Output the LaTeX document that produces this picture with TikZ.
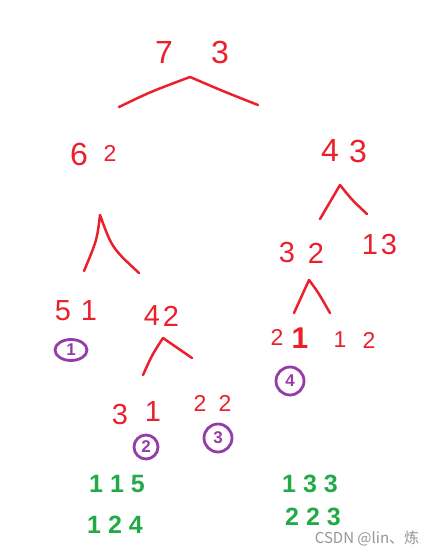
\documentclass[tikz,border=0pt]{standalone}
\usepackage{fontspec}
\usetikzlibrary{shapes.geometric}
\setmainfont{Liberation Sans}
\newfontfamily\cjk{Noto Sans CJK SC}
\definecolor{hred}{RGB}{236,32,44}
\definecolor{hgreen}{RGB}{34,170,72}
\definecolor{hpurple}{RGB}{150,60,170}
\definecolor{wmgray}{RGB}{150,150,150}
\begin{document}
\begin{tikzpicture}[x=1pt,y=-1pt,
  dig/.style={text=hred, font=\fontsize{29}{29}\selectfont, inner sep=0pt},
  bigdig/.style={dig, font=\fontsize{32}{32}\selectfont},
  smalldig/.style={dig, font=\fontsize{23}{23}\selectfont},
  wedge/.style={draw=hred, line width=2.5pt, line cap=round, line join=round},
  circ/.style={draw=hpurple, line width=2.8pt, circle, text=hpurple,
    font=\bfseries\fontsize{17}{17}\selectfont, inner sep=0pt, minimum size=24pt},
  res/.style={text=hgreen, font=\bfseries\fontsize{25}{25}\selectfont, inner sep=0pt},
  wm/.style={text=wmgray, font=\cjk\fontsize{15}{15}\selectfont, inner sep=0pt}]
\useasboundingbox[fill=white] (0,0) rectangle (447,556);
% root 7 3
\node[bigdig] (r7) at (164,52) {7};
\node[bigdig] (r3) at (220,52) {3};
\coordinate (ra) at (190,77);
\coordinate (rl) at (119,107);
\coordinate (rr) at (258,105);
\draw[wedge] (rl) .. controls (150,92) .. (ra) .. controls (225,92) .. (rr);
% 6 2
\node[bigdig] (a6) at (79,154) {6};
\node[smalldig] (a2) at (110,153) {2};
\coordinate (aa) at (100,215);
\coordinate (al) at (84,271);
\coordinate (ar) at (139,273);
\draw[wedge] (al) .. controls (97,240) .. (aa) .. controls (112,248) .. (ar);
% 4 3
\node[bigdig] (b4) at (330,150) {4};
\node[bigdig] (b3) at (358,151) {3};
\coordinate (ba) at (340,185);
\coordinate (bl) at (320,219);
\coordinate (br) at (367,214);
\draw[wedge] (bl) -- (ba) .. controls (352,200) .. (br);
% 1 3
\node[dig] (c1) at (370,245) {1};
\node[dig] (c3) at (389,245) {3};
% 3 2
\node[dig] (d3) at (287,253) {3};
\node[dig] (d2) at (316,253) {2};
\coordinate (da) at (309,280);
\coordinate (dl) at (294,313);
\coordinate (dr) at (330,313);
\draw[wedge] (dl) -- (da) .. controls (318,292) .. (dr);
% 5 1
\node[dig] (e5) at (63,311) {5};
\node[dig] (e1) at (89,311) {1};
\node[circ, ellipse, minimum width=32pt, minimum height=21pt] (k1) at (71,350) {1};
% 4 2
\node[dig] (f4) at (152,316) {4};
\node[dig] (f2) at (171,316) {2};
\coordinate (fa) at (163,338);
\coordinate (fl) at (143,375);
\coordinate (fr) at (192,358);
\draw[wedge] (fl) .. controls (152,355) .. (fa) -- (fr);
% 3 1
\node[dig] (g3) at (120,415) {3};
\node[dig] (g1) at (153,412) {1};
\node[circ] (k2) at (146,447) {2};
% 2 2
\node[smalldig] (h2a) at (200,403) {2};
\node[smalldig] (h2b) at (225,403) {2};
\node[circ, minimum size=28pt] (k3) at (218,438) {3};
% 2 1
\node[smalldig] (i2) at (277,337) {2};
\node[dig, font=\bfseries\fontsize{30}{30}\selectfont] (i1) at (300,338) {1};
\node[circ, minimum size=28pt] (k4) at (290,381) {4};
% 1 2
\node[smalldig] (j1) at (340,340) {1};
\node[smalldig] (j2) at (369,340) {2};
% results
\node[res] (s1) at (117,484) {1 1 5};
\node[res] (s2) at (115,525) {1 2 4};
\node[res] (s3) at (310,484) {1 3 3};
\node[res] (s4) at (313,517) {2 2 3};
\node[wm] (w) at (367,538) {CSDN @lin、炼};
\end{tikzpicture}
\end{document}
